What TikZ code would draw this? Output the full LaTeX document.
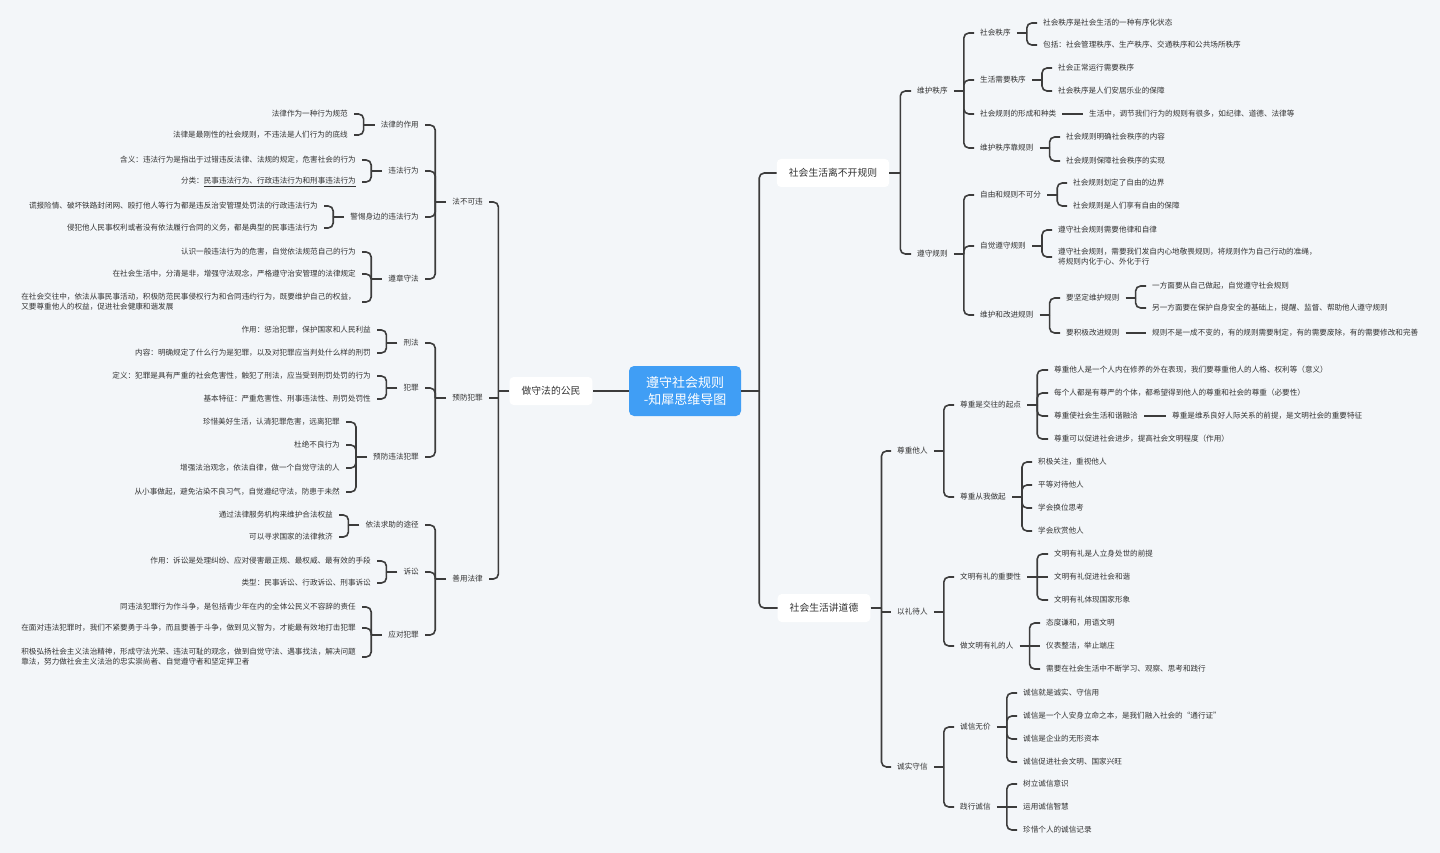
\documentclass[tikz,border=0pt]{standalone}
\usepackage{fontspec}
\setmainfont{Noto Sans CJK SC}

\definecolor{bgc}{HTML}{F3F6F9}
\definecolor{linec}{HTML}{3C3C3C}
\definecolor{textc}{HTML}{333333}
\definecolor{rootc}{HTML}{409EF5}

\newcommand\leafsize{\fontsize{7.6}{10}\selectfont}

\tikzset{
  link/.style={draw=linec, line width=1.6pt, rounded corners=5pt},
  leaf/.style={text=textc, font=\leafsize, inner xsep=6pt, inner ysep=1pt, align=left},
  mainbox/.style={fill=white, rounded corners=4pt, text=textc, font=\fontsize{9.8}{12}\selectfont,
    inner xsep=12pt, minimum height=28pt},
  rootbox/.style={fill=rootc, rounded corners=5pt, text=white, font=\fontsize{13}{17}\selectfont,
    minimum width=112pt, minimum height=50pt, align=center},
}

\begin{document}
\begin{tikzpicture}[x=1pt,y=-1pt]
  \useasboundingbox (0,0) rectangle (1440,853);
  \fill[bgc] (0,0) rectangle (1440,853);

  % centre
  \node[rootbox] (root) at (685,391) {遵守社会规则\\-知犀思维导图};
  \node[mainbox] (citizen) at (551,391) {做守法的公民};
  \node[mainbox] (rules) at (833,173) {社会生活离不开规则};
  \node[mainbox] (moral) at (824,608) {社会生活讲道德};
  \draw[link] (root.west) -- (citizen.east);
  \draw[link] (root.east) -- ++(18,0) coordinate (jR);
  \draw[link] (jR) |- (rules.west);
  \draw[link] (jR) |- (moral.west);

  % ---------- left: 做守法的公民 ----------
  \draw[link] (citizen.west) -- ++(-11,0) coordinate (jC);
  \node[leaf,anchor=east] (lawA) at (489,202) {法不可违};
  \node[leaf,anchor=east] (lawB) at (489,398) {预防犯罪};
  \node[leaf,anchor=east] (lawC) at (489,579) {善用法律};
  \draw[link] (jC) |- (lawA.east);
  \draw[link,sharp corners] (jC) |- (lawB.east);
  \draw[link] (jC) |- (lawC.east);

  % 法不可违
  \draw[link] (lawA.west) -- ++(-11,0) coordinate (jA);
  \node[leaf,anchor=east] (A1) at (425,125) {法律的作用};
  \node[leaf,anchor=east] (A2) at (425,171) {违法行为};
  \node[leaf,anchor=east] (A3) at (425,217) {警惕身边的违法行为};
  \node[leaf,anchor=east] (A4) at (425,279) {遵章守法};
  \foreach \n in {A1,A2,A3,A4} \draw[link] (jA) |- (\n.east);

  \draw[link] (A1.west) -- ++(-11,0) coordinate (jA1);
  \node[leaf,anchor=east] (A1a) at (354,114) {法律作为一种行为规范};
  \node[leaf,anchor=east] (A1b) at (354,135) {法律是最刚性的社会规则，不违法是人们行为的底线};
  \draw[link] (jA1) |- (A1a.east);
  \draw[link] (jA1) |- (A1b.east);

  \draw[link] (A2.west) -- ++(-11,0) coordinate (jA2);
  \node[leaf,anchor=east] (A2a) at (362,160) {含义：违法行为是指出于过错违反法律、法规的规定，危害社会的行为};
  \node[leaf,anchor=east] (A2b) at (362,182) {分类：\underline{民事违法行为、行政违法行为和刑事违法行为}};
  \draw[link] (jA2) |- (A2a.east);
  \draw[link] (jA2) |- (A2b.east);

  \draw[link] (A3.west) -- ++(-11,0) coordinate (jA3);
  \node[leaf,anchor=east] (A3a) at (324,206) {谎报险情、破坏铁路封闭网、殴打他人等行为都是违反治安管理处罚法的行政违法行为};
  \node[leaf,anchor=east] (A3b) at (324,228) {侵犯他人民事权利或者没有依法履行合同的义务，都是典型的民事违法行为};
  \draw[link] (jA3) |- (A3a.east);
  \draw[link] (jA3) |- (A3b.east);

  \draw[link] (A4.west) -- ++(-11,0) coordinate (jA4);
  \node[leaf,anchor=east] (A4a) at (362,252) {认识一般违法行为的危害，自觉依法规范自己的行为};
  \node[leaf,anchor=east] (A4b) at (362,274) {在社会生活中，分清是非，增强守法观念，严格遵守治安管理的法律规定};
  \node[leaf,anchor=east] (A4c) at (362,302) {在社会交往中，依法从事民事活动，积极防范民事侵权行为和合同违约行为，既要维护自己的权益，\\又要尊重他人的权益，促进社会健康和谐发展};
  \foreach \n in {A4a,A4b,A4c} \draw[link] (jA4) |- (\n.east);

  % 预防犯罪
  \draw[link] (lawB.west) -- ++(-11,0) coordinate (jB);
  \node[leaf,anchor=east] (B1) at (425,343) {刑法};
  \node[leaf,anchor=east] (B2) at (425,388) {犯罪};
  \node[leaf,anchor=east] (B3) at (425,457) {预防违法犯罪};
  \foreach \n in {B1,B2,B3} \draw[link] (jB) |- (\n.east);

  \draw[link] (B1.west) -- ++(-11,0) coordinate (jB1);
  \node[leaf,anchor=east] (B1a) at (377,330) {作用：惩治犯罪，保护国家和人民利益};
  \node[leaf,anchor=east] (B1b) at (377,353) {内容：明确规定了什么行为是犯罪，以及对犯罪应当判处什么样的刑罚};
  \draw[link] (jB1) |- (B1a.east);
  \draw[link] (jB1) |- (B1b.east);

  \draw[link] (B2.west) -- ++(-11,0) coordinate (jB2);
  \node[leaf,anchor=east] (B2a) at (377,376) {定义：犯罪是具有严重的社会危害性，触犯了刑法，应当受到刑罚处罚的行为};
  \node[leaf,anchor=east] (B2b) at (377,399) {基本特征：严重危害性、刑事违法性、刑罚处罚性};
  \draw[link] (jB2) |- (B2a.east);
  \draw[link] (jB2) |- (B2b.east);

  \draw[link] (B3.west) -- ++(-11,0) coordinate (jB3);
  \node[leaf,anchor=east] (B3a) at (346,422) {珍惜美好生活，认清犯罪危害，远离犯罪};
  \node[leaf,anchor=east] (B3b) at (346,445) {杜绝不良行为};
  \node[leaf,anchor=east] (B3c) at (346,468) {增强法治观念，依法自律，做一个自觉守法的人};
  \node[leaf,anchor=east] (B3d) at (346,492) {从小事做起，避免沾染不良习气，自觉遵纪守法，防患于未然};
  \foreach \n in {B3a,B3b,B3c,B3d} \draw[link] (jB3) |- (\n.east);

  % 善用法律
  \draw[link] (lawC.west) -- ++(-11,0) coordinate (jCc);
  \node[leaf,anchor=east] (C1) at (425,525) {依法求助的途径};
  \node[leaf,anchor=east] (C2) at (425,572) {诉讼};
  \node[leaf,anchor=east] (C3) at (425,635) {应对犯罪};
  \foreach \n in {C1,C2,C3} \draw[link] (jCc) |- (\n.east);

  \draw[link] (C1.west) -- ++(-11,0) coordinate (jC1);
  \node[leaf,anchor=east] (C1a) at (339,515) {通过法律服务机构来维护合法权益};
  \node[leaf,anchor=east] (C1b) at (339,537) {可以寻求国家的法律救济};
  \draw[link] (jC1) |- (C1a.east);
  \draw[link] (jC1) |- (C1b.east);

  \draw[link] (C2.west) -- ++(-11,0) coordinate (jC2);
  \node[leaf,anchor=east] (C2a) at (377,561) {作用：诉讼是处理纠纷、应对侵害最正规、最权威、最有效的手段};
  \node[leaf,anchor=east] (C2b) at (377,583) {类型：民事诉讼、行政诉讼、刑事诉讼};
  \draw[link] (jC2) |- (C2a.east);
  \draw[link] (jC2) |- (C2b.east);

  \draw[link] (C3.west) -- ++(-11,0) coordinate (jC3);
  \node[leaf,anchor=east] (C3a) at (362,607) {同违法犯罪行为作斗争，是包括青少年在内的全体公民义不容辞的责任};
  \node[leaf,anchor=east] (C3b) at (362,628) {在面对违法犯罪时，我们不紧要勇于斗争，而且要善于斗争，做到见义智为，才能最有效地打击犯罪};
  \node[leaf,anchor=east] (C3c) at (362,657) {积极弘扬社会主义法治精神，形成守法光荣、违法可耻的观念，做到自觉守法、遇事找法，解决问题\\靠法，努力做社会主义法治的忠实崇尚者、自觉遵守者和坚定捍卫者};
  \foreach \n in {C3a,C3b,C3c} \draw[link] (jC3) |- (\n.east);

  % ---------- right: 社会生活离不开规则 ----------
  \draw[link] (rules.east) -- ++(11,0) coordinate (jS);
  \node[leaf,anchor=west] (S1) at (911,91) {维护秩序};
  \node[leaf,anchor=west] (S2) at (911,254) {遵守规则};
  \draw[link] (jS) |- (S1.west);
  \draw[link] (jS) |- (S2.west);

  % 维护秩序
  \draw[link] (S1.east) -- ++(10,0) coordinate (jS1);
  \node[leaf,anchor=west] (S1a) at (974,33) {社会秩序};
  \node[leaf,anchor=west] (S1b) at (974,80) {生活需要秩序};
  \node[leaf,anchor=west] (S1c) at (974,114) {社会规则的形成和种类};
  \node[leaf,anchor=west] (S1d) at (974,148) {维护秩序靠规则};
  \foreach \n in {S1a,S1b,S1c,S1d} \draw[link] (jS1) |- (\n.west);

  \draw[link] (S1a.east) -- ++(10,0) coordinate (jS1a);
  \node[leaf,anchor=west] (S1a1) at (1037,23) {社会秩序是社会生活的一种有序化状态};
  \node[leaf,anchor=west] (S1a2) at (1037,45) {包括：社会管理秩序、生产秩序、交通秩序和公共场所秩序};
  \draw[link] (jS1a) |- (S1a1.west);
  \draw[link] (jS1a) |- (S1a2.west);

  \draw[link] (S1b.east) -- ++(10,0) coordinate (jS1b);
  \node[leaf,anchor=west] (S1b1) at (1052,68) {社会正常运行需要秩序};
  \node[leaf,anchor=west] (S1b2) at (1052,91) {社会秩序是人们安居乐业的保障};
  \draw[link] (jS1b) |- (S1b1.west);
  \draw[link] (jS1b) |- (S1b2.west);

  \node[leaf,anchor=west] (S1c1) at (1083,114) {生活中，调节我们行为的规则有很多，如纪律、道德、法律等};
  \draw[link] (S1c.east) -- (S1c1.west);

  \draw[link] (S1d.east) -- ++(10,0) coordinate (jS1d);
  \node[leaf,anchor=west] (S1d1) at (1060,137) {社会规则明确社会秩序的内容};
  \node[leaf,anchor=west] (S1d2) at (1060,161) {社会规则保障社会秩序的实现};
  \draw[link] (jS1d) |- (S1d1.west);
  \draw[link] (jS1d) |- (S1d2.west);

  % 遵守规则
  \draw[link] (S2.east) -- ++(10,0) coordinate (jS2);
  \node[leaf,anchor=west] (S2a) at (974,195) {自由和规则不可分};
  \node[leaf,anchor=west] (S2b) at (974,246) {自觉遵守规则};
  \node[leaf,anchor=west] (S2c) at (974,315) {维护和改进规则};
  \foreach \n in {S2a,S2b,S2c} \draw[link] (jS2) |- (\n.west);

  \draw[link] (S2a.east) -- ++(10,0) coordinate (jS2a);
  \node[leaf,anchor=west] (S2a1) at (1067,183) {社会规则划定了自由的边界};
  \node[leaf,anchor=west] (S2a2) at (1067,206) {社会规则是人们享有自由的保障};
  \draw[link] (jS2a) |- (S2a1.west);
  \draw[link] (jS2a) |- (S2a2.west);

  \draw[link] (S2b.east) -- ++(10,0) coordinate (jS2b);
  \node[leaf,anchor=west] (S2b1) at (1052,230) {遵守社会规则需要他律和自律};
  \node[leaf,anchor=west] (S2b2) at (1052,257) {遵守社会规则，需要我们发自内心地敬畏规则，将规则作为自己行动的准绳，\\将规则内化于心、外化于行};
  \draw[link] (jS2b) |- (S2b1.west);
  \draw[link] (jS2b) |- (S2b2.west);

  \draw[link] (S2c.east) -- ++(10,0) coordinate (jS2c);
  \node[leaf,anchor=west] (S2c1) at (1060,298) {要坚定维护规则};
  \node[leaf,anchor=west] (S2c2) at (1060,333) {要积极改进规则};
  \draw[link] (jS2c) |- (S2c1.west);
  \draw[link] (jS2c) |- (S2c2.west);

  \draw[link] (S2c1.east) -- ++(10,0) coordinate (jS2c1);
  \node[leaf,anchor=west] (S2c1a) at (1146,286) {一方面要从自己做起，自觉遵守社会规则};
  \node[leaf,anchor=west] (S2c1b) at (1146,308) {另一方面要在保护自身安全的基础上，提醒、监督、帮助他人遵守规则};
  \draw[link] (jS2c1) |- (S2c1a.west);
  \draw[link] (jS2c1) |- (S2c1b.west);

  \node[leaf,anchor=west] (S2c2a) at (1146,333) {规则不是一成不变的，有的规则需要制定，有的需要废除，有的需要修改和完善};
  \draw[link] (S2c2.east) -- (S2c2a.west);

  % ---------- right: 社会生活讲道德 ----------
  \draw[link] (moral.east) -- ++(11,0) coordinate (jM);
  \node[leaf,anchor=west] (M1) at (891,451) {尊重他人};
  \node[leaf,anchor=west] (M2) at (891,612) {以礼待人};
  \node[leaf,anchor=west] (M3) at (891,767) {诚实守信};
  \draw[link] (jM) |- (M1.west);
  \draw[link,sharp corners] (jM) |- (M2.west);
  \draw[link] (jM) |- (M3.west);

  % 尊重他人
  \draw[link] (M1.east) -- ++(10,0) coordinate (jM1);
  \node[leaf,anchor=west] (M1a) at (954,405) {尊重是交往的起点};
  \node[leaf,anchor=west] (M1b) at (954,497) {尊重从我做起};
  \draw[link] (jM1) |- (M1a.west);
  \draw[link] (jM1) |- (M1b.west);

  \draw[link] (M1a.east) -- ++(10,0) coordinate (jM1a);
  \node[leaf,anchor=west] (M1a1) at (1048,370) {尊重他人是一个人内在修养的外在表现，我们要尊重他人的人格、权利等（意义）};
  \node[leaf,anchor=west] (M1a2) at (1048,393) {每个人都是有尊严的个体，都希望得到他人的尊重和社会的尊重（必要性）};
  \node[leaf,anchor=west] (M1a3) at (1048,416) {尊重使社会生活和谐融洽};
  \node[leaf,anchor=west] (M1a4) at (1048,439) {尊重可以促进社会进步，提高社会文明程度（作用）};
  \foreach \n in {M1a1,M1a2,M1a3,M1a4} \draw[link] (jM1a) |- (\n.west);
  \node[leaf,anchor=west] (M1a3x) at (1166,416) {尊重是维系良好人际关系的前提，是文明社会的重要特征};
  \draw[link] (M1a3.east) -- (M1a3x.west);

  \draw[link] (M1b.east) -- ++(10,0) coordinate (jM1b);
  \node[leaf,anchor=west] (M1b1) at (1032,462) {积极关注，重视他人};
  \node[leaf,anchor=west] (M1b2) at (1032,485) {平等对待他人};
  \node[leaf,anchor=west] (M1b3) at (1032,508) {学会换位思考};
  \node[leaf,anchor=west] (M1b4) at (1032,531) {学会欣赏他人};
  \foreach \n in {M1b1,M1b2,M1b3,M1b4} \draw[link] (jM1b) |- (\n.west);

  % 以礼待人
  \draw[link] (M2.east) -- ++(10,0) coordinate (jM2);
  \node[leaf,anchor=west] (M2a) at (954,577) {文明有礼的重要性};
  \node[leaf,anchor=west] (M2b) at (954,646) {做文明有礼的人};
  \draw[link] (jM2) |- (M2a.west);
  \draw[link] (jM2) |- (M2b.west);

  \draw[link] (M2a.east) -- ++(10,0) coordinate (jM2a);
  \node[leaf,anchor=west] (M2a1) at (1048,554) {文明有礼是人立身处世的前提};
  \node[leaf,anchor=west] (M2a2) at (1048,577) {文明有礼促进社会和谐};
  \node[leaf,anchor=west] (M2a3) at (1048,600) {文明有礼体现国家形象};
  \draw[link] (jM2a) |- (M2a1.west);
  \draw[link] (jM2a) -- (M2a2.west);
  \draw[link] (jM2a) |- (M2a3.west);

  \draw[link] (M2b.east) -- ++(10,0) coordinate (jM2b);
  \node[leaf,anchor=west] (M2b1) at (1040,623) {态度谦和，用语文明};
  \node[leaf,anchor=west] (M2b2) at (1040,646) {仪表整洁，举止端庄};
  \node[leaf,anchor=west] (M2b3) at (1040,669) {需要在社会生活中不断学习、观察、思考和践行};
  \draw[link] (jM2b) |- (M2b1.west);
  \draw[link] (jM2b) -- (M2b2.west);
  \draw[link] (jM2b) |- (M2b3.west);

  % 诚实守信
  \draw[link] (M3.east) -- ++(10,0) coordinate (jM3);
  \node[leaf,anchor=west] (M3a) at (954,727) {诚信无价};
  \node[leaf,anchor=west] (M3b) at (954,807) {践行诚信};
  \draw[link] (jM3) |- (M3a.west);
  \draw[link] (jM3) |- (M3b.west);

  \draw[link] (M3a.east) -- ++(10,0) coordinate (jM3a);
  \node[leaf,anchor=west] (M3a1) at (1017,693) {诚信就是诚实、守信用};
  \node[leaf,anchor=west] (M3a2) at (1017,716) {诚信是一个人安身立命之本，是我们融入社会的“通行证”};
  \node[leaf,anchor=west] (M3a3) at (1017,739) {诚信是企业的无形资本};
  \node[leaf,anchor=west] (M3a4) at (1017,762) {诚信促进社会文明、国家兴旺};
  \foreach \n in {M3a1,M3a2,M3a3,M3a4} \draw[link] (jM3a) |- (\n.west);

  \draw[link] (M3b.east) -- ++(10,0) coordinate (jM3b);
  \node[leaf,anchor=west] (M3b1) at (1017,784) {树立诚信意识};
  \node[leaf,anchor=west] (M3b2) at (1017,807) {运用诚信智慧};
  \node[leaf,anchor=west] (M3b3) at (1017,830) {珍惜个人的诚信记录};
  \draw[link] (jM3b) |- (M3b1.west);
  \draw[link] (jM3b) -- (M3b2.west);
  \draw[link] (jM3b) |- (M3b3.west);
\end{tikzpicture}
\end{document}
